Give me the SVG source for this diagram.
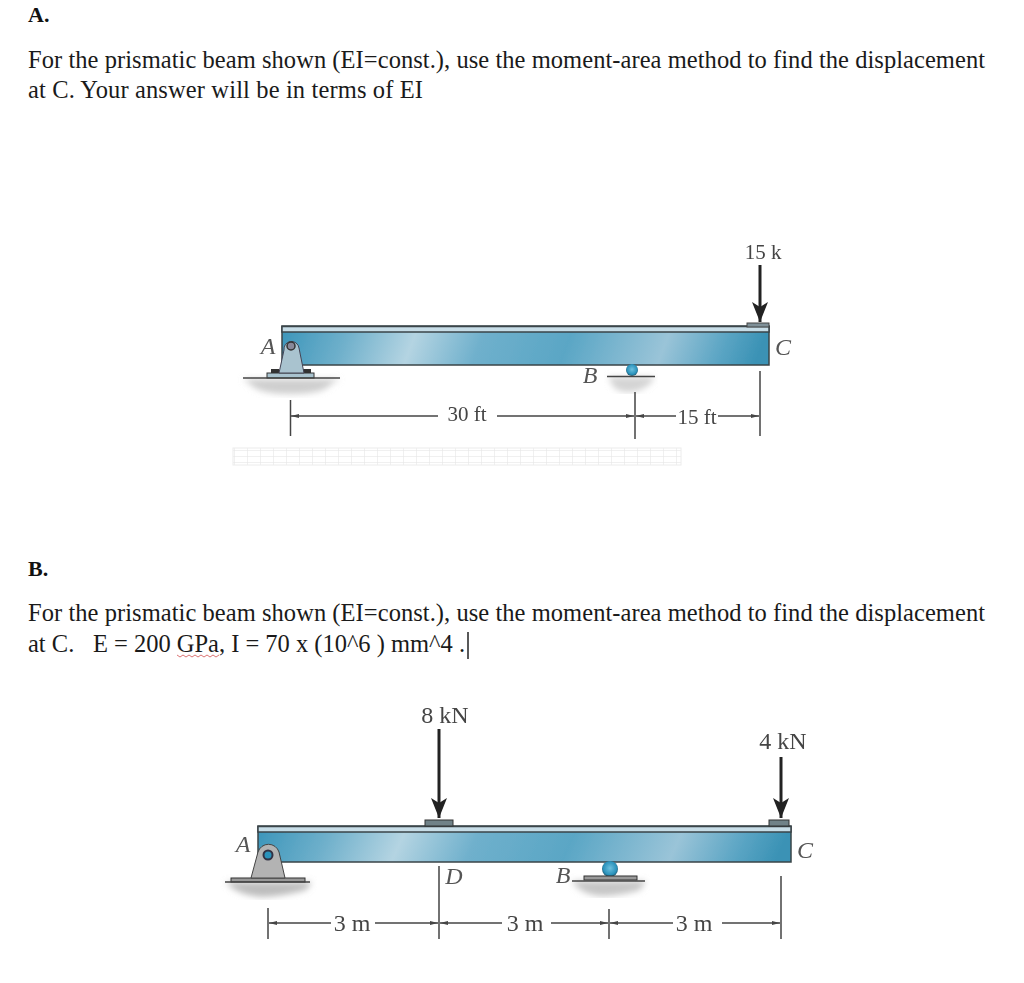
<svg xmlns="http://www.w3.org/2000/svg" width="1024" height="983" viewBox="0 0 1024 983">
<style>
.t{font-family:"Liberation Serif","Times New Roman",serif;font-size:24.500px;fill:#1a1a1a}
.h{font-weight:bold;font-size:22px;fill:#111}
.d{font-family:"Liberation Serif",serif;font-size:21px;fill:#444;text-anchor:middle}
.l{font-size:24px}
.i{font-style:italic;fill:#555}
.dim{stroke:#444;stroke-width:1.5;fill:none}
.ol{stroke:#3a4448;stroke-width:1.5}
.force{stroke:#222;stroke-width:3;fill:none}
.soft{filter:url(#b)}
</style>
<defs>
<filter id="b" x="-5%" y="-5%" width="110%" height="110%"><feGaussianBlur stdDeviation="0.7"/></filter>
<filter id="b3" x="-20%" y="-50%" width="140%" height="200%"><feGaussianBlur stdDeviation="3"/></filter>
<linearGradient id="beam" x1="0" y1="0" x2="1" y2="0.03">
<stop offset="0" stop-color="#3b95ba"/><stop offset=".14" stop-color="#6fb0cb"/><stop offset=".28" stop-color="#b4d4e2"/><stop offset=".42" stop-color="#6fb0cc"/><stop offset=".6" stop-color="#5aa6c5"/><stop offset=".8" stop-color="#9ac4d8"/><stop offset=".92" stop-color="#5ba5c4"/><stop offset="1" stop-color="#3a92b5"/>
</linearGradient>
<radialGradient id="ball" cx=".5" cy=".45" r=".55"><stop offset="0" stop-color="#6cc0de"/><stop offset=".75" stop-color="#2a92bb"/><stop offset="1" stop-color="#24566c"/></radialGradient>
<pattern id="grid" width="13" height="6" patternUnits="userSpaceOnUse"><path d="M0 0H13M0 0V6" stroke="#e2e2e2" stroke-width="1" fill="none"/></pattern>
<marker id="ah" viewBox="0 0 8 6" refX="8" refY="3" markerWidth="8" markerHeight="6" orient="auto-start-reverse" markerUnits="userSpaceOnUse"><path d="M0 1 L8 3 L0 5Z" fill="#444"/></marker>
<marker id="fh" viewBox="0 0 20 16" refX="20" refY="8" markerWidth="20" markerHeight="16" orient="auto" markerUnits="userSpaceOnUse"><path d="M0 0 L5 8 L0 16 L20 8Z" fill="#222"/></marker>
</defs>

<g id="text-a">
<text class="t h" x="28" y="22">A.</text>
<text class="t" x="28" y="68" textLength="957">For the prismatic beam shown (EI=const.), use the moment-area method to find the displacement</text>
<text class="t" x="28" y="98" textLength="395">at C. Your answer will be in terms of EI</text>
</g>
<g id="text-b">
<text class="t h" x="28" y="576">B.</text>
<text class="t" x="28" y="621" textLength="957">For the prismatic beam shown (EI=const.), use the moment-area method to find the displacement</text>
<text class="t" x="28" y="652">at C.</text>
<text class="t" x="93" y="652" textLength="372">E = 200 GPa, I = 70 x (10^6 ) mm^4 .</text>
<path d="M468 632V659" stroke="#222" stroke-width="1.5"/>
<path d="M177 655l3 2 3-2 3 2 3-2 3 2 3-2 3 2 3-2 3 2 3-2 3 2 3-2 3 2 3-2" fill="none" stroke="#d05050" stroke-width=".8"/>
</g>

<g id="grid-a"><rect x="233" y="448" width="448" height="17" fill="url(#grid)" stroke="#ececec"/></g>

<g id="beam-a" class="soft">
<path d="M243 379H340L331 384Q325 394 290 394Q258 394 250 384Z" fill="#cfcfcf" filter="url(#b3)"/>
<rect x="282" y="326" width="487" height="39" fill="url(#beam)" stroke="#3a4448" stroke-width="1.500"/>
<rect x="282" y="326.500" width="487" height="5.500" fill="#c7dde7" class="ol"/>
<rect x="747" y="323" width="22" height="4" fill="#7f9098" stroke="#444"/>
</g>
<g id="support-a" class="soft">
<rect x="267" y="373" width="47" height="5" fill="#a9c3cf" stroke="#333"/>
<rect x="271" y="369" width="8" height="4" fill="#333"/><rect x="303" y="369" width="8" height="4" fill="#333"/>
<path d="M279 373 L284 350 A7.500 7.500 0 0 1 299 348 L304 373Z" fill="#a9c3cf" stroke="#445"/>
<circle cx="291" cy="346" r="4" fill="#889" stroke="#333" stroke-width="1.500"/>
<path d="M243 378H340" stroke="#444" stroke-width="1.500"/>
</g>
<g id="support-b1" class="soft">
<path d="M608 377H655L650 384Q640 392 630 392Q615 392 612 384Z" fill="#d4d4d4" filter="url(#b3)"/>
<circle cx="632" cy="370" r="6" fill="url(#ball)"/>
<path d="M607 376.500H655" stroke="#444" stroke-width="1.500"/>
</g>

<g id="beam-b" class="soft">
<rect x="258" y="826" width="533" height="36" fill="url(#beam)" stroke="#3a4448" stroke-width="1.500"/>
<rect x="258" y="826.500" width="533" height="5.500" fill="#c7dde7" class="ol"/>
<rect x="425" y="820" width="28" height="6" fill="#6f8288" stroke="#333"/>
<rect x="769" y="820" width="20" height="6" fill="#6f8288" stroke="#333"/>
</g>
<g id="support-c" class="soft">
<path d="M226 882H312L306 890Q280 897 262 897Q236 895 226 882Z" fill="#bdbdbd" filter="url(#b3)"/>
<rect x="231" y="878" width="74" height="4" fill="#999" stroke="#333"/>
<path d="M251 878 L258 852 A11 11 0 0 1 279 852 L285 878Z" fill="#b3b3b3" stroke="#444"/>
<circle cx="268" cy="855" r="4.500" fill="#2a92bb" stroke="#334" stroke-width="2"/>
<path d="M225 882H310" stroke="#444" stroke-width="1.500"/>
</g>
<g id="support-d" class="soft">
<path d="M572 881H646L640 890Q620 896 600 896Q580 894 572 881Z" fill="#c6c6c6" filter="url(#b3)"/>
<circle cx="610" cy="869" r="8" fill="url(#ball)"/>
<rect x="584" y="876" width="53" height="4" fill="#999" stroke="#333"/>
<path d="M572 881H645" stroke="#444" stroke-width="1.500"/>
</g>

<g id="connectors" class="soft">
<path class="force" d="M760 265V322" marker-end="url(#fh)"/>
<path class="force" d="M439 729V818" marker-end="url(#fh)"/>
<path class="force" d="M781 757V818" marker-end="url(#fh)"/>
<path class="dim" d="M290.500 400V436M635 392V439M760 371V436"/>
<path class="dim" d="M291 416H438" marker-start="url(#ah)"/>
<path class="dim" d="M497 416H634" marker-end="url(#ah)"/>
<path class="dim" d="M636 416H676" marker-start="url(#ah)"/>
<path class="dim" d="M718 416H759" marker-end="url(#ah)"/>
<path class="dim" d="M268 908V939M439 866V939M609 909V939M781 876V939"/>
<path class="dim" d="M269 923H331" marker-start="url(#ah)"/>
<path class="dim" d="M375 923H438" marker-end="url(#ah)"/>
<path class="dim" d="M440 923H502" marker-start="url(#ah)"/>
<path class="dim" d="M551 923H608" marker-end="url(#ah)"/>
<path class="dim" d="M610 923H673" marker-start="url(#ah)"/>
<path class="dim" d="M722 923H780" marker-end="url(#ah)"/>
</g>

<g id="labels" class="soft">
<text class="d" x="763" y="259">15 k</text>
<text class="d i l" x="783" y="355">C</text>
<text class="d i l" x="268" y="354">A</text>
<text class="d i l" x="590" y="383">B</text>
<text class="d" x="467" y="421">30 ft</text>
<text class="d" x="697" y="424">15 ft</text>
<text class="d l" x="445" y="723">8 kN</text>
<text class="d l" x="783" y="749">4 kN</text>
<text class="d i l" x="805" y="858">C</text>
<text class="d i l" x="243" y="852">A</text>
<text class="d i l" x="454" y="884">D</text>
<text class="d i l" x="563" y="883">B</text>
<text class="d l" x="352" y="931">3 m</text>
<text class="d l" x="525" y="931">3 m</text>
<text class="d l" x="694" y="931">3 m</text>
</g>
</svg>
